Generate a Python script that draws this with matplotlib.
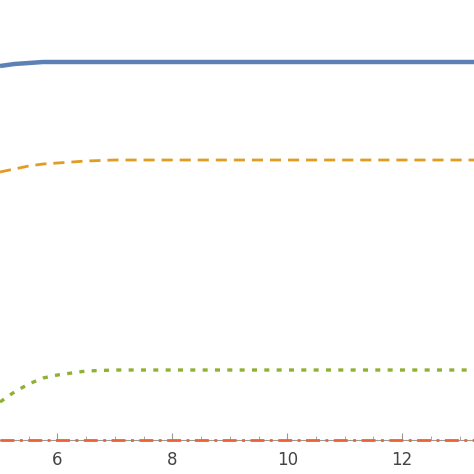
import matplotlib
matplotlib.use("Agg")
import matplotlib.pyplot as plt

x_vals = [5.0, 5.25, 5.5, 5.75, 6.0, 6.5, 7.0, 7.5, 8.0, 10.0, 12.0, 13.3]
blue = [3.74, 3.76, 3.77, 3.78, 3.78, 3.78, 3.78, 3.78, 3.78, 3.78, 3.78, 3.78]
orange = [2.68, 2.71, 2.74, 2.76, 2.77, 2.79, 2.80, 2.80, 2.80, 2.80, 2.80, 2.80]
green = [0.38, 0.48, 0.56, 0.62, 0.65, 0.69, 0.70, 0.70, 0.70, 0.70, 0.70, 0.70]
red = [0.0] * len(x_vals)

fig = plt.figure(figsize=(4.74, 4.74), dpi=100)
ax = fig.add_axes([0, 0, 1, 1])
ax.plot(x_vals, blue, color="#5E81B5", lw=3.2, solid_capstyle="butt")
ax.plot(x_vals, orange, color="#E19C24", lw=2.0, dashes=(4, 2.5))
ax.plot(x_vals, green, color="#8FB032", lw=2.4, dashes=(1.5, 2.2))
ax.plot(x_vals, red, color="#EB6235", lw=2.0, dashes=(5, 2, 1, 2), zorder=5)

ax.set_xlim(5.0, 13.25)
ax.set_ylim(-0.34, 4.40)
for s in ["left", "right", "top"]:
    ax.spines[s].set_visible(False)
ax.spines["bottom"].set_position(("data", 0))
ax.spines["bottom"].set_color("#999999")
ax.spines["bottom"].set_zorder(1)
ax.set_yticks([])
ax.set_xticks([6, 8, 10, 12])
ax.set_xticks([5.5, 6.5, 7, 7.5, 8.5, 9, 9.5, 10.5, 11, 11.5, 12.5, 13], minor=True)
ax.tick_params(axis="x", direction="in", length=5, color="#999999", labelsize=12,
               labelcolor="#444444", pad=8)
ax.tick_params(axis="x", which="minor", direction="in", length=3, color="#999999")
fig.savefig("out.png", dpi=100)
